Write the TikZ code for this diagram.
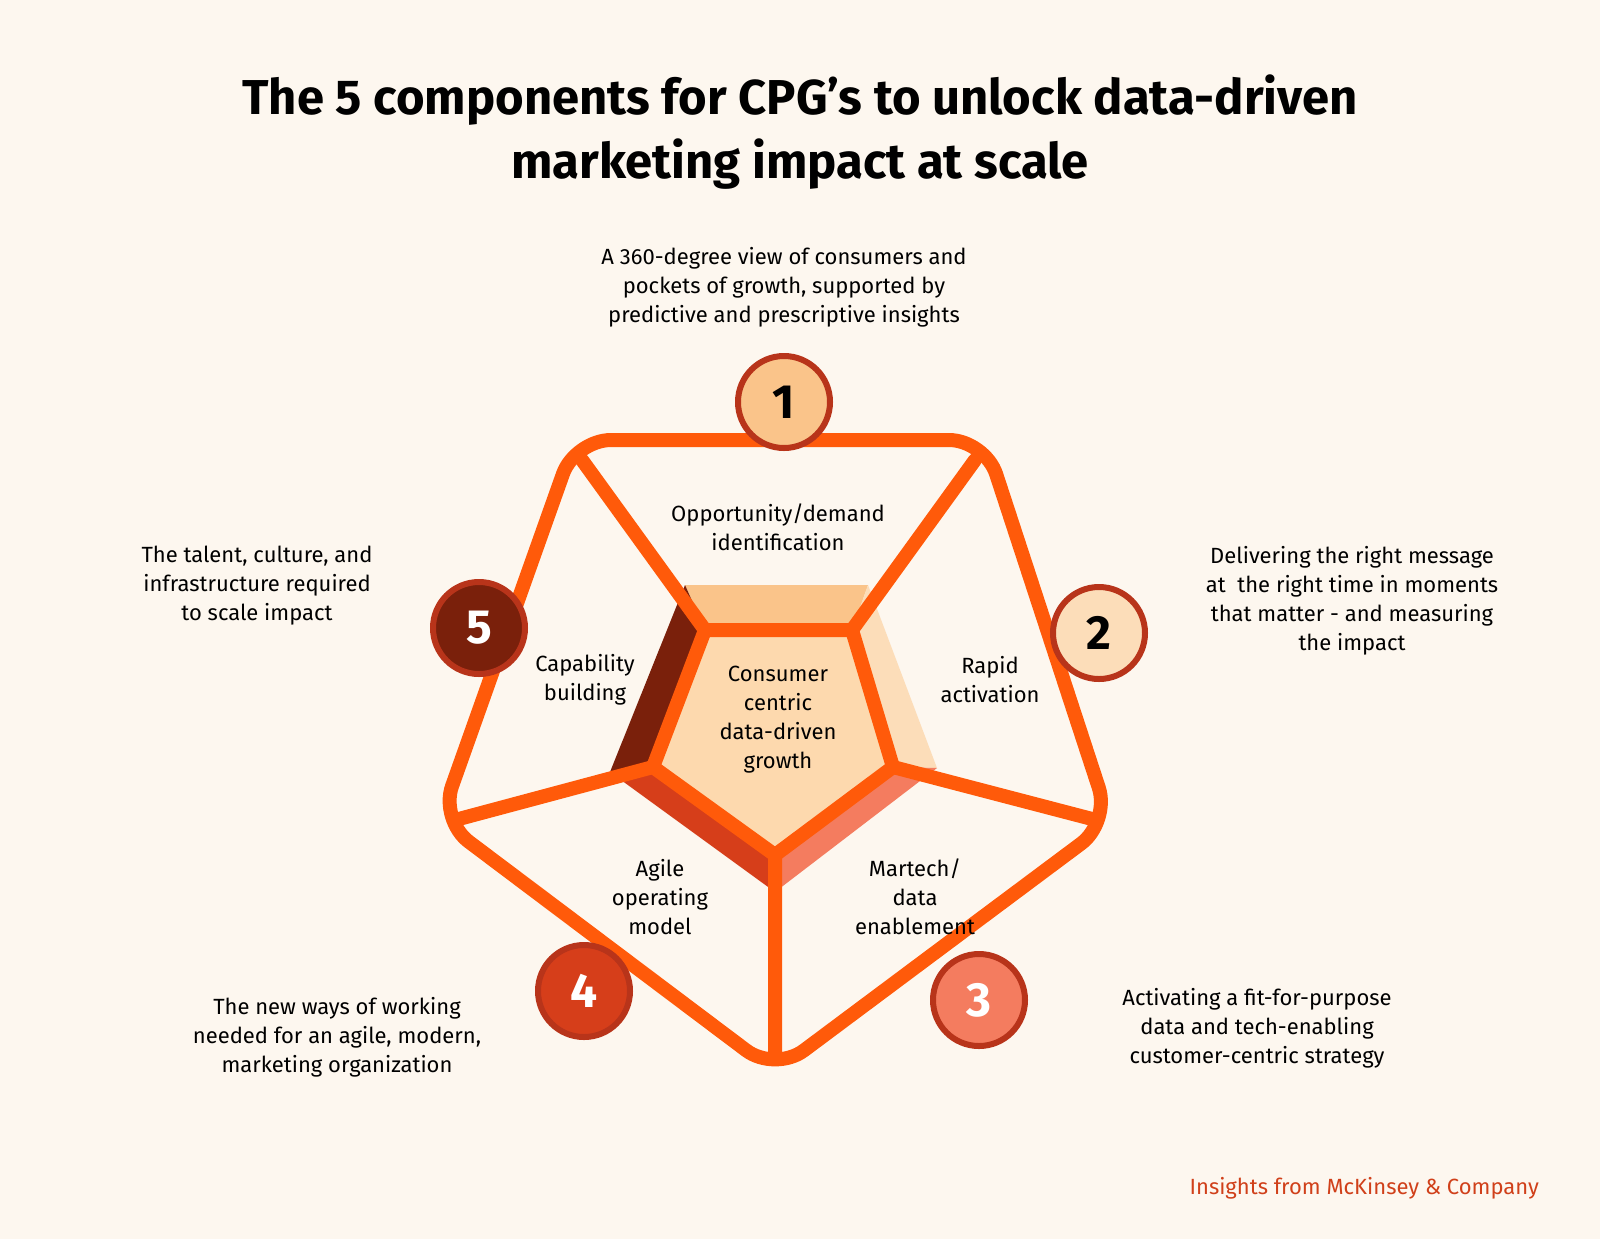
\documentclass[tikz,border=0pt]{standalone}
\usepackage{fontspec}
\setmainfont{Fira Sans}
\definecolor{bgcream}{HTML}{FDF7EF}
\definecolor{lineorange}{HTML}{FF5A0A}
\definecolor{ringred}{HTML}{B8341A}
\definecolor{cone}{HTML}{FAC48A}
\definecolor{ctwo}{HTML}{FCDDB9}
\definecolor{cthree}{HTML}{F47C5F}
\definecolor{cfour}{HTML}{D63E1A}
\definecolor{cfive}{HTML}{7A200B}
\definecolor{corefill}{HTML}{FDD9AE}
\definecolor{mckred}{HTML}{D0401A}
\begin{document}
\begin{tikzpicture}[x=0.5pt,y=-0.5pt,
  numcirc/.style={circle,draw=ringred,line width=3pt,minimum size=46pt,inner sep=0pt,font=\fontsize{24}{24}\selectfont\bfseries},
  desc/.style={align=center,font=\fontsize{11}{14.5}\selectfont},
  frame/.style={lineorange,line width=7pt,line join=round,line cap=round}]
\fill[bgcream] (0,0) rectangle (1600,1239);
\node[font=\fontsize{24.5}{32}\selectfont\bfseries,align=center] (title) at (800,132)
  {The 5 components for CPG\char"27 s to unlock data-driven\\marketing impact at scale};
% shadow faces
\coordinate (s1) at (685,585); \coordinate (s2) at (868,585); \coordinate (s3) at (937,768);
\coordinate (s4) at (775,892); \coordinate (s5) at (610,772);
\coordinate (i1) at (705,630); \coordinate (i2) at (852,630); \coordinate (i3) at (893,767);
\coordinate (i4) at (775,855); \coordinate (i5) at (653,767);
\fill[cone] (s1)--(s2)--(i2)--(i1)--cycle;
\fill[ctwo] (s2)--(s3)--(i3)--(i2)--cycle;
\fill[cthree] (s3)--(s4)--(i4)--(i3)--cycle;
\fill[cfour] (s4)--(s5)--(i5)--(i4)--cycle;
\fill[cfive] (s5)--(s1)--(i1)--(i5)--cycle;
\filldraw[frame,fill=corefill] (i1)--(i2)--(i3)--(i4)--(i5)--cycle;
% outer frame
\coordinate (o1) at (575,440); \coordinate (o2) at (985,440); \coordinate (o3) at (1110,822);
\coordinate (o4) at (775,1072); \coordinate (o5) at (440,820);
\draw[frame,rounded corners=18pt] (o1)--(o2)--(o3)--(o4)--(o5)--cycle;
\draw[frame] (i1)--(582,460) (i2)--(975,460) (i3)--(1096,820) (i4)--(775,1055) (i5)--(455,820);
% labels in frame
\node[desc] (core) at (778,720) {Consumer\\centric\\data-driven\\growth};
\node[desc] (opp) at (778,527) {Opportunity/demand\\identification};
\node[desc] (rapid) at (990,680) {Rapid\\activation};
\node[desc] (mar) at (915,897) {Martech/\\data\\enablement};
\node[desc] (agile) at (660,897) {Agile\\operating\\model};
\node[desc] (cap) at (585,680) {Capability\\building};
% numbered circles
\node[numcirc,fill=cone] (n1) at (784,402) {1};
\node[numcirc,fill=ctwo] (n2) at (1099,633) {2};
\node[numcirc,fill=cthree,text=white] (n3) at (979,1000) {3};
\node[numcirc,fill=cfour,text=white] (n4) at (584,991) {4};
\node[numcirc,fill=cfive,text=white] (n5) at (479,628) {5};
% descriptions
\node[desc] (d1) at (784,287) {A 360-degree view of consumers and\\pockets of growth, supported by\\predictive and prescriptive insights};
\node[desc] (d2) at (1352,601) {Delivering the right message\\at\ \ the right time in moments\\that matter - and measuring\\the impact};
\node[desc] (d3) at (1257,1028) {Activating a fit-for-purpose\\data and tech-enabling\\customer-centric strategy};
\node[desc] (d4) at (337,1037) {The new ways of working\\needed for an agile, modern,\\marketing organization};
\node[desc] (d5) at (257,586) {The talent, culture, and\\infrastructure required\\to scale impact};
\node[desc,text=mckred,anchor=east] (src) at (1546,1188) {Insights from McKinsey \& Company};
\end{tikzpicture}
\end{document}
